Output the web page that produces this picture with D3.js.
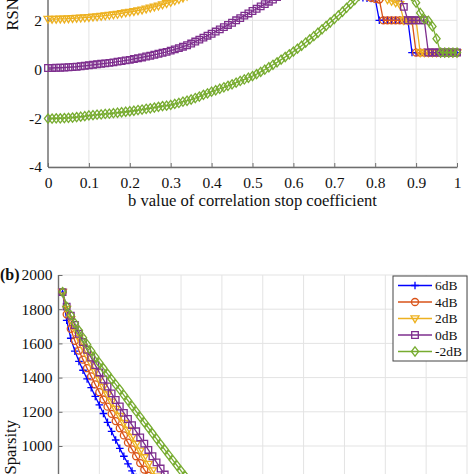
<!DOCTYPE html>
<html lang="en">
  <head>
    <meta charset="UTF-8" />
    <title>RSNR and sparsity vs b</title>
    <script src="https://cdn.jsdelivr.net/npm/d3@7"></script>
    <style>
      body { margin: 0; background: #fff; }
      text { font-family: "Liberation Serif", "Times New Roman", serif; fill: #111; }
    </style>
  </head>
  <body>
    <script>
      // ---- data ----
      const seriesNames = ["6dB", "4dB", "2dB", "0dB", "-2dB"];

      // (a) RSNR against b, b = 0 ... 1
      const bTop = [
        0, 0.01, 0.02, 0.03, 0.04, 0.05, 0.06, 0.07, 0.08, 0.09,
        0.1, 0.11, 0.12, 0.13, 0.14, 0.15, 0.16, 0.17, 0.18, 0.19,
        0.2, 0.21, 0.22, 0.23, 0.24, 0.25, 0.26, 0.27, 0.28, 0.29,
        0.3, 0.31, 0.32, 0.33, 0.34, 0.35, 0.36, 0.37, 0.38, 0.39,
        0.4, 0.41, 0.42, 0.43, 0.44, 0.45, 0.46, 0.47, 0.48, 0.49,
        0.5, 0.51, 0.52, 0.53, 0.54, 0.55, 0.56, 0.57, 0.58, 0.59,
        0.6, 0.61, 0.62, 0.63, 0.64, 0.65, 0.66, 0.67, 0.68, 0.69,
        0.7, 0.71, 0.72, 0.73, 0.74, 0.75, 0.76, 0.77, 0.78, 0.79,
        0.8, 0.81, 0.82, 0.83, 0.84, 0.85, 0.86, 0.87, 0.88, 0.89,
        0.9, 0.91, 0.92, 0.93, 0.94, 0.95, 0.96, 0.97, 0.98, 0.99, 1
      ];
      const rsnr6dB = [
        6.05, 6.05, 6.06, 6.07, 6.08, 6.09, 6.11, 6.13, 6.15, 6.17,
        6.2, 6.23, 6.26, 6.3, 6.34, 6.38, 6.43, 6.48, 6.53, 6.59,
        6.65, 6.71, 6.78, 6.85, 6.92, 6.99, 7.06, 7.13, 7.2, 7.26,
        7.32, 7.37, 7.42, 7.46, 7.5, 7.53, 7.55, 7.57, 7.58, 7.58,
        7.57, 7.55, 7.52, 7.48, 7.43, 7.37, 7.3, 7.22, 7.13, 7.03,
        6.92, 6.8, 6.67, 6.53, 6.38, 6.22, 6.05, 5.87, 5.68, 5.48,
        5.28, 5.08, 4.88, 4.68, 4.48, 4.29, 4.11, 3.94, 3.78, 3.63,
        3.5, 3.38, 3.27, 3.18, 3.1, 3.03, 2.97, 2.92, 2.9, 2.89,
        2.88, 2, 2, 2, 2, 2, 2, 2, 2, 0.68,
        0.68, 0.68, 0.68, 0.68, 0.68, 0.68, 0.68, 0.68, 0.68, 0.68, 0.68
      ];
      const rsnr4dB = [
        4.05, 4.05, 4.06, 4.07, 4.08, 4.09, 4.1, 4.12, 4.14, 4.16,
        4.18, 4.21, 4.24, 4.27, 4.3, 4.34, 4.38, 4.42, 4.47, 4.52,
        4.57, 4.63, 4.69, 4.75, 4.81, 4.88, 4.95, 5.02, 5.09, 5.16,
        5.23, 5.3, 5.37, 5.44, 5.5, 5.56, 5.62, 5.67, 5.72, 5.76,
        5.8, 5.83, 5.85, 5.87, 5.88, 5.88, 5.87, 5.85, 5.82, 5.78,
        5.73, 5.67, 5.6, 5.52, 5.43, 5.33, 5.22, 5.1, 4.97, 4.83,
        4.69, 4.55, 4.41, 4.27, 4.13, 4, 3.87, 3.75, 3.64, 3.54,
        3.45, 3.37, 3.29, 3.22, 3.16, 3.11, 3.06, 3.02, 2.98, 2.92,
        2.88, 2.85, 2, 2, 2, 2, 2, 2, 2, 2,
        0.68, 0.68, 0.68, 0.68, 0.68, 0.68, 0.68, 0.68, 0.68, 0.68, 0.68
      ];
      const rsnr2dB = [
        2.05, 2.05, 2.05, 2.06, 2.06, 2.07, 2.08, 2.09, 2.1, 2.11,
        2.12, 2.14, 2.15, 2.17, 2.19, 2.21, 2.23, 2.25, 2.28, 2.31,
        2.34, 2.37, 2.4, 2.43, 2.47, 2.51, 2.55, 2.59, 2.64, 2.69,
        2.74, 2.8, 2.86, 2.92, 2.99, 3.06, 3.13, 3.21, 3.29, 3.37,
        3.46, 3.55, 3.64, 3.74, 3.84, 3.94, 4.05, 4.16, 4.27, 4.39,
        4.51, 4.6, 4.68, 4.75, 4.81, 4.86, 4.9, 4.93, 4.95, 4.96,
        4.96, 4.95, 4.93, 4.9, 4.86, 4.81, 4.75, 4.68, 4.6, 4.51,
        4.41, 4.3, 4.18, 4.05, 3.91, 3.77, 3.63, 3.5, 3.38, 3.27,
        3.17, 3.09, 3, 2.85, 2.78, 2.72, 2.65, 2, 2, 2,
        2, 0.68, 0.68, 0.68, 0.68, 0.68, 0.68, 0.68, 0.68, 0.68, 0.68
      ];
      const rsnr0dB = [
        0.05, 0.05, 0.06, 0.06, 0.07, 0.08, 0.09, 0.1, 0.12, 0.14,
        0.16, 0.18, 0.2, 0.22, 0.24, 0.26, 0.28, 0.31, 0.33, 0.36,
        0.38, 0.42, 0.45, 0.48, 0.52, 0.55, 0.59, 0.63, 0.67, 0.71,
        0.76, 0.81, 0.86, 0.92, 0.98, 1.05, 1.13, 1.21, 1.29, 1.37,
        1.45, 1.54, 1.63, 1.72, 1.81, 1.9, 2, 2.09, 2.19, 2.28,
        2.38, 2.47, 2.57, 2.66, 2.76, 2.85, 2.95, 3.05, 3.15, 3.25,
        3.35, 3.44, 3.52, 3.59, 3.65, 3.7, 3.74, 3.77, 3.79, 3.8,
        3.8, 3.79, 3.77, 3.74, 3.7, 3.65, 3.59, 3.52, 3.45, 3.38,
        3.31, 3.24, 3.18, 3.12, 3.07, 3.02, 2.98, 2.55, 2, 2,
        2, 2, 2, 0.68, 0.68, 0.68, 0.68, 0.68, 0.68, 0.68, 0.68
      ];
      const rsnrMinus2dB = [
        -2.02, -2.02, -2.01, -2.01, -2, -1.99, -1.98, -1.96, -1.94, -1.92,
        -1.89, -1.88, -1.86, -1.85, -1.83, -1.82, -1.8, -1.78, -1.76, -1.74,
        -1.72, -1.7, -1.67, -1.65, -1.62, -1.6, -1.57, -1.54, -1.51, -1.49,
        -1.46, -1.42, -1.38, -1.33, -1.29, -1.24, -1.18, -1.12, -1.05, -0.99,
        -0.92, -0.86, -0.8, -0.74, -0.68, -0.62, -0.55, -0.48, -0.42, -0.35,
        -0.28, -0.2, -0.11, -0.02, 0.08, 0.18, 0.28, 0.39, 0.5, 0.61,
        0.72, 0.84, 0.96, 1.09, 1.22, 1.35, 1.49, 1.63, 1.77, 1.91,
        2.05, 2.2, 2.35, 2.51, 2.67, 2.83, 3, 3.18, 3.34, 3.47,
        3.56, 3.62, 3.64, 3.62, 3.56, 3.47, 3.36, 3.23, 3.1, 2.98,
        2.72, 2.3, 2.05, 1.98, 1.75, 1.25, 0.68, 0.68, 0.68, 0.68, 0.68
      ];

      // (b) sparsity against b, b = 0.01 ... 0.40
      const bBottom = [
        0.01, 0.02, 0.03, 0.04, 0.05, 0.06, 0.07, 0.08, 0.09, 0.1,
        0.11, 0.12, 0.13, 0.14, 0.15, 0.16, 0.17, 0.18, 0.19, 0.2,
        0.21, 0.22, 0.23, 0.24, 0.25, 0.26, 0.27, 0.28, 0.29, 0.3,
        0.31, 0.32, 0.33, 0.34, 0.35, 0.36, 0.37, 0.38, 0.39, 0.4
      ];
      const sparsity6dB = [
        1900, 1735, 1630, 1555, 1495, 1443, 1392, 1341, 1290, 1240,
        1190, 1138, 1085, 1035, 986, 940, 896, 854, 815, 778,
        743, 710, 679, 650, 622, 596, 571, 548, 526, 505,
        486, 468, 451, 435, 420, 406, 393, 381, 370, 360
      ];
      const sparsity4dB = [
        1900, 1770, 1685, 1615, 1558, 1505, 1455, 1407, 1360, 1315,
        1272, 1230, 1188, 1146, 1104, 1062, 1020, 980, 940, 900,
        862, 826, 791, 757, 725, 694, 665, 637, 611, 586,
        563, 541, 520, 501, 483, 466, 450, 435, 421, 408
      ];
      const sparsity2dB = [
        1900, 1800, 1740, 1684, 1630, 1579, 1530, 1482, 1435, 1390,
        1345, 1301, 1258, 1216, 1175, 1134, 1093, 1052, 1012, 972,
        933, 894, 856, 819, 783, 748, 715, 683, 653, 625,
        598, 573, 549, 527, 506, 486, 467, 450, 434, 419
      ];
      const sparsity0dB = [
        1900, 1815, 1762, 1708, 1656, 1608, 1562, 1517, 1473, 1430,
        1389, 1348, 1308, 1269, 1231, 1194, 1158, 1122, 1086, 1050,
        1014, 977, 940, 904, 868, 833, 798, 764, 731, 699,
        668, 638, 610, 583, 557, 533, 510, 489, 469, 450
      ];
      const sparsityMinus2dB = [
        1900, 1815, 1765, 1718, 1675, 1633, 1594, 1556, 1521, 1487,
        1454, 1422, 1391, 1360, 1330, 1298, 1266, 1234, 1202, 1170,
        1138, 1106, 1074, 1042, 1010, 979, 948, 917, 886, 855,
        825, 796, 768, 741, 715, 690, 666, 643, 621, 600
      ];

      // only the ticks that fall inside the visible crop of the figure
      const bTicks = [0, 0.1, 0.2, 0.3, 0.4, 0.5, 0.6, 0.7, 0.8, 0.9, 1];
      const rsnrTicks = [-4, -2, 0, 2];
      const sparsityTicks = [1000, 1200, 1400, 1600, 1800, 2000];

      // ---- styles ----
      const colors = ["#0000ff", "#d95319", "#edb120", "#7e2f8e", "#77ac30"];
      const markers = ["plus", "circle", "triangle", "square", "diamond"];
      const gridColor = "#e3e3e3";
      const axisColor = "#6e6e6e";

      function markerPath(type) {
        if (type === "plus") return "M-3.8,0H3.8M0,-3.8V3.8";
        if (type === "circle") return "M3.5,0A3.5,3.5 0 1,1 -3.5,0A3.5,3.5 0 1,1 3.5,0Z";
        if (type === "triangle") return "M-4,-2.7L4,-2.7L0,4.1Z";
        if (type === "square") return "M-3.3,-3.3H3.3V3.3H-3.3Z";
        return "M0,-4.6L3.6,0L0,4.6L-3.6,0Z";
      }

      const svg = d3.select("body").append("svg")
        .attr("width", 474)
        .attr("height", 474);

      function drawPanel(x, y, xTicks, yTicks, xs, seriesValues, showXAxis) {
        const [x0, x1] = x.range();
        const [y0, y1] = y.range();
        const g = svg.append("g");

        // grid
        g.selectAll(".vgrid").data(xTicks).enter().append("line")
          .attr("x1", d => x(d)).attr("x2", d => x(d))
          .attr("y1", y0).attr("y2", y1)
          .attr("stroke", gridColor);
        g.selectAll(".hgrid").data(yTicks).enter().append("line")
          .attr("x1", x0).attr("x2", x1)
          .attr("y1", d => y(d)).attr("y2", d => y(d))
          .attr("stroke", gridColor);

        // axes, ticks inside like matlab
        const axes = [];
        if (showXAxis) {
          axes.push(g.append("g")
            .attr("transform", `translate(0,${y0})`)
            .call(d3.axisBottom(x).tickValues(xTicks).tickSize(-4).tickSizeOuter(0).tickPadding(10)
              .tickFormat(d => String(d))));
        }
        const yAxis = g.append("g")
          .attr("transform", `translate(${x0},0)`)
          .call(d3.axisLeft(y).tickValues(yTicks).tickSize(-4).tickSizeOuter(0).tickPadding(6)
            .tickFormat(d => String(d)));
        yAxis.select(".domain").attr("d", `M0,${y0}V${y1}`);
        axes.push(yAxis);
        axes.forEach(a => {
          a.select(".domain").attr("stroke", axisColor).attr("stroke-width", 1.4);
          a.selectAll(".tick line").attr("stroke", axisColor);
          a.selectAll(".tick text").attr("font-size", 15.5).attr("fill", "#111")
            .attr("font-family", "Liberation Serif");
        });

        // series, drawn in legend order
        seriesValues.forEach((vals, i) => {
          const pts = vals.map((v, k) => [xs[k], v]);
          g.append("path")
            .datum(pts)
            .attr("fill", "none")
            .attr("stroke", colors[i])
            .attr("stroke-width", 1.3)
            .attr("d", d3.line().x(d => x(d[0])).y(d => y(d[1])));
          g.selectAll(null).data(pts).enter().append("path")
            .attr("transform", d => `translate(${x(d[0])},${y(d[1])})`)
            .attr("d", markerPath(markers[i]))
            .attr("fill", "none")
            .attr("stroke", colors[i])
            .attr("stroke-width", 1.3);
        });
        return g;
      }

      // ---- panel (a) ----
      const xTop = d3.scaleLinear().domain([0, 1]).range([48, 457]);
      const yTop = d3.scaleLinear().domain([-4, 8]).range([167, 167 - 12 * 24.45]);
      drawPanel(xTop, yTop, bTicks, rsnrTicks, bTop,
        [rsnr6dB, rsnr4dB, rsnr2dB, rsnr0dB, rsnrMinus2dB], true);

      svg.append("text")
        .attr("x", 252.5).attr("y", 206)
        .attr("text-anchor", "middle")
        .attr("font-size", 16.6)
        .text("b value of correlation stop coefficient");
      svg.append("text")
        .attr("transform", "translate(18,30.5) rotate(-90)")
        .attr("text-anchor", "start")
        .attr("font-size", 16.6)
        .text("RSNR");

      // ---- panel (b) ----
      const xBot = d3.scaleLinear().domain([0, 1]).range([58.5, 467]);
      const yBot = d3.scaleLinear().domain([0, 2000]).range([275 + 342, 275]);
      drawPanel(xBot, yBot, bTicks, sparsityTicks, bBottom,
        [sparsity6dB, sparsity4dB, sparsity2dB, sparsity0dB, sparsityMinus2dB], false);

      svg.append("text")
        .attr("transform", "translate(16,420) rotate(-90)")
        .attr("text-anchor", "end")
        .attr("font-size", 16.6)
        .text("Sparsity");
      svg.append("text")
        .attr("x", 0).attr("y", 280)
        .attr("font-size", 16)
        .attr("font-weight", "bold")
        .text("(b)");

      // legend
      const leg = svg.append("g").attr("transform", "translate(393,276)");
      leg.append("rect")
        .attr("width", 74).attr("height", 85)
        .attr("fill", "#fff")
        .attr("stroke", "#444").attr("stroke-width", 1);
      seriesNames.forEach((name, i) => {
        const row = leg.append("g").attr("transform", `translate(0,${9.5 + i * 16.5})`);
        row.append("line")
          .attr("x1", 5).attr("x2", 39)
          .attr("stroke", colors[i]).attr("stroke-width", 1.3);
        row.append("path")
          .attr("transform", "translate(22,0)")
          .attr("d", markerPath(markers[i]))
          .attr("fill", "none").attr("stroke", colors[i]).attr("stroke-width", 1.3);
        row.append("text")
          .attr("x", 42).attr("y", 4.5)
          .attr("font-size", 13.5)
          .text(name);
      });
    </script>
  </body>
</html>
